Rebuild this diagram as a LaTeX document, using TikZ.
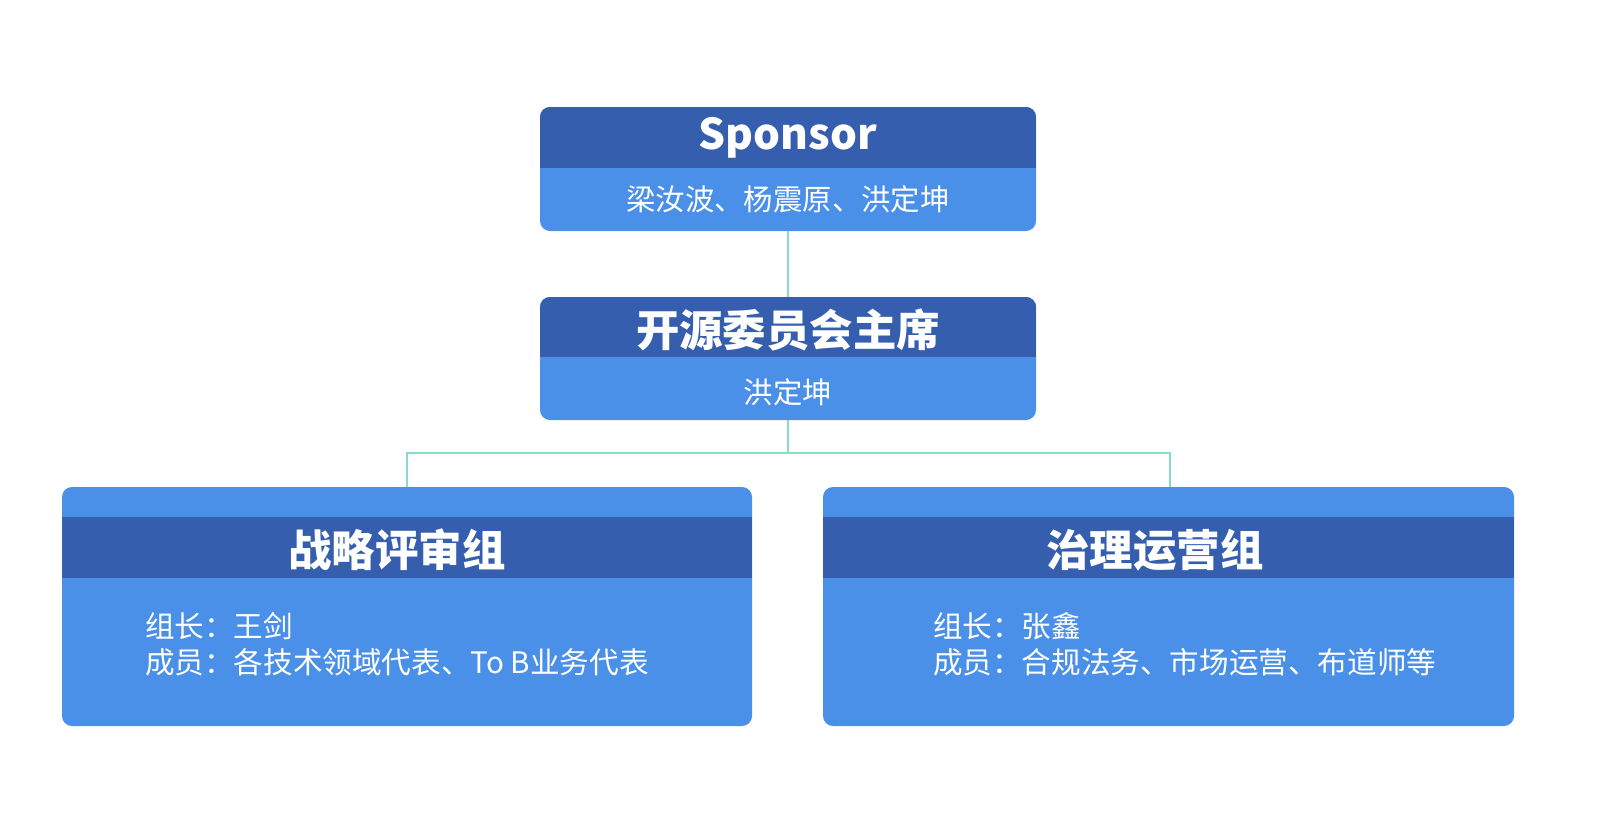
\documentclass[tikz,border=0pt]{standalone}
\usepackage{fontspec}
\setmainfont{Noto Sans CJK SC}
\begin{document}
\definecolor{dk}{HTML}{355FAE}
\definecolor{lt}{HTML}{4A90E8}
\definecolor{ln}{HTML}{86DCC6}
\begin{tikzpicture}[x=0.5pt,y=-0.5pt,
  box/.style={fill=lt,rounded corners=5pt,inner sep=0,draw=none},
  ttl/.style={text=white,font=\fontsize{21.7}{26}\selectfont\bfseries},
  sub/.style={text=white,font=\fontsize{14.7}{18}\selectfont},
  bod/.style={text=white,font=\fontsize{14.8}{18}\selectfont,align=left,anchor=west},
  con/.style={draw=ln,line width=1pt}]
\useasboundingbox[fill=white] (0,0) rectangle (1617,831);
% Sponsor
\node[box,minimum width=248pt,minimum height=62pt] (sp) at (788,169) {};
\begin{scope}\clip[rounded corners=5pt] (540,107) rectangle (1036,231);
\fill[dk] (540,107) rectangle (1036,168);\end{scope}
\node[ttl,font=\fontsize{21.2}{26}\selectfont\bfseries] (spt) at (788,138) {Sponsor};
\node[sub] (sps) at (788,199) {梁汝波、杨震原、洪定坤};
% Chair
\node[box,minimum width=248pt,minimum height=61.5pt] (ch) at (788,358.5) {};
\begin{scope}\clip[rounded corners=5pt] (540,297) rectangle (1036,420);
\fill[dk] (540,297) rectangle (1036,357);\end{scope}
\node[ttl] (cht) at (788,330) {开源委员会主席};
\node[sub] (chs) at (788,392) {洪定坤};
% Left
\node[box,minimum width=345pt,minimum height=119.5pt] (lb) at (407,606.5) {};
\fill[dk] (62,517) rectangle (752,578);
\node[ttl] (lt) at (397,550) {战略评审组};
\node[bod] (lbd) at (138,644) {组长：王剑\\成员：各技术领域代表、To B业务代表};
% Right
\node[box,minimum width=345.5pt,minimum height=119.5pt] (rb) at (1168.5,606.5) {};
\fill[dk] (823,517) rectangle (1514,578);
\node[ttl] (rt) at (1155,550) {治理运营组};
\node[bod] (rbd) at (926,644) {组长：张鑫\\成员：合规法务、市场运营、布道师等};
% connectors
\coordinate (j) at (788,453);
\draw[con] (sp.south) -- (ch.north);
\draw[con] (ch.south) -- (j);
\draw[con] (j) -| (lb.north);
\draw[con] (j) -| ([xshift=0.5pt]rb.north);
\end{tikzpicture}
\end{document}
